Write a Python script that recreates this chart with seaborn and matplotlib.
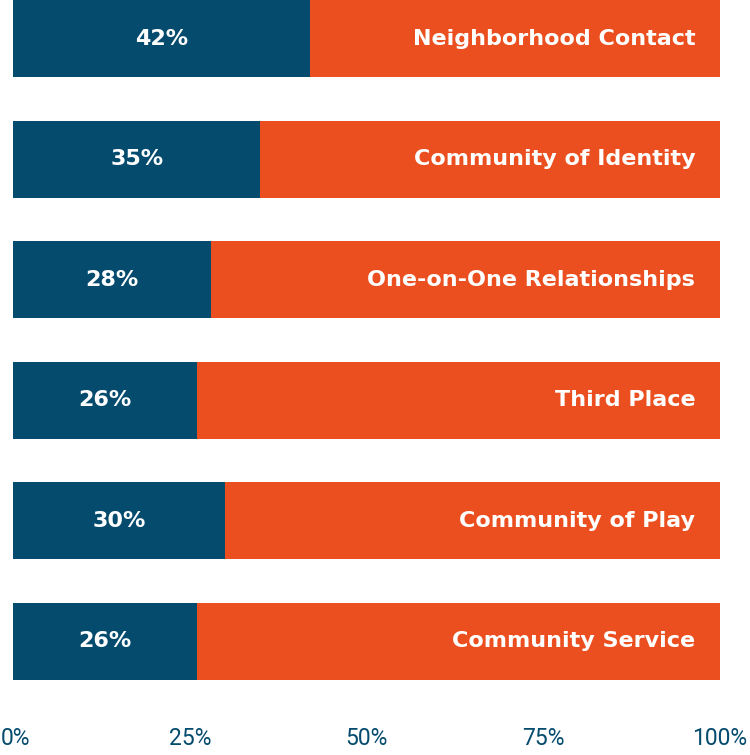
import matplotlib
matplotlib.use("Agg")
import matplotlib.pyplot as plt
import matplotlib.transforms as mtransforms
import seaborn as sns
import pandas as pd

categories = ["Neighborhood Contact", "Community of Identity", "One-on-One Relationships",
              "Third Place", "Community of Play", "Community Service"]
share = [42, 35, 28, 26, 30, 26]
total = [100, 100, 100, 100, 100, 100]
tick_values = [0, 25, 50, 75, 100]
tick_labels = ["0%", "25%", "50%", "75%", "100%"]

BLUE = "#054B6E"
ORANGE = "#EC4F1F"

df = pd.DataFrame({"category": categories, "share": share, "total": total})

sns.set_theme(style="white")
plt.rcParams["font.family"] = ["DejaVu Sans"]

fig = plt.figure(figsize=(7.5, 7.55), dpi=100)
ax = fig.add_axes([13/750, 75/755, 707/750, 680/755])

sns.barplot(data=df, x="total", y="category", orient="h", color=ORANGE,
            saturation=1, width=0.64, linewidth=0, ax=ax)
sns.barplot(data=df, x="share", y="category", orient="h", color=BLUE,
            saturation=1, width=0.64, linewidth=0, ax=ax)

for i, (cat, v) in enumerate(zip(categories, share)):
    ax.text(v / 2, i, f"{v}%", ha="center", va="center", color="white",
            fontsize=16, fontweight="bold")
    ax.text(96.5, i, cat, ha="right", va="center", color="white",
            fontsize=16, fontweight="bold")

ax.set_xlim(0, 100)
ax.set_ylim(len(categories) - 1 + 0.32, -0.32)
ax.set_xticks(tick_values)
ax.set_xticklabels(tick_labels, color=BLUE, fontsize=16.5, family=["Roboto", "DejaVu Sans"])
ax.tick_params(axis="x", length=0, pad=34)
ax.set_yticks([])
ax.set_xlabel("")
ax.set_ylabel("")
for s in ax.spines.values():
    s.set_visible(False)

first = ax.get_xticklabels()[0]
first.set_horizontalalignment("left")
first.set_transform(first.get_transform() +
                    mtransforms.ScaledTranslation(-12/100, 0, fig.dpi_scale_trans))

fig.savefig("out.png", dpi=100)
